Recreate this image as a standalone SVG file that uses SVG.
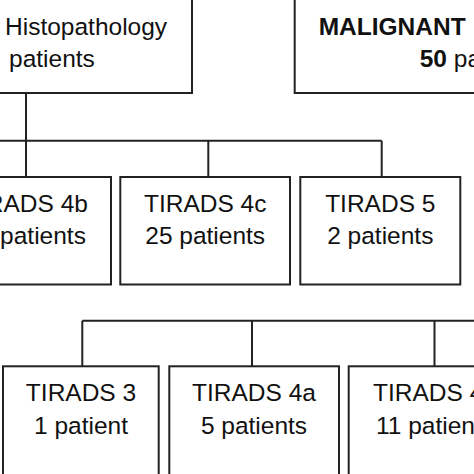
<svg xmlns="http://www.w3.org/2000/svg" width="474" height="474" viewBox="0 0 474 474">
<style>
.box{fill:#fff;stroke:#222;stroke-width:2}
.conn{fill:none;stroke:#222;stroke-width:2}
text{font-family:"Liberation Sans",Arial,sans-serif;font-size:24.5px;fill:#111}
.c{text-anchor:middle}
.b{font-weight:bold}
</style>
<rect width="474" height="474" fill="#fff"/>
<g id="connectors">
<path class="conn" d="M26 93V177"/>
<path class="conn" d="M-5 140.7H381.7"/>
<path class="conn" d="M208.3 140.7V177M381.7 140.7V177"/>
<path class="conn" d="M82.3 320.7H480"/>
<path class="conn" d="M82.3 320.7V366.3M252 320.7V366.3M434.5 320.7V366.3"/>
</g>
<g id="histopathology">
<rect class="box" x="-20" y="-10" width="212" height="103"/>
<text x="5" y="34.5">Histopathology</text>
<text x="9" y="67">patients</text>
</g>
<g id="malignant">
<rect class="box" x="294.7" y="-10" width="200" height="103"/>
<text x="318.7" y="34.5" class="b">MALIGNANT</text>
<text x="419.7" y="67"><tspan class="b">50</tspan> patients</text>
</g>
<g id="tirads4b-m">
<rect class="box" x="-59" y="177" width="170" height="107.5"/>
<text x="26" y="211.7" class="c">TIRADS 4b</text>
<text x="26" y="243.5" class="c">23 patients</text>
</g>
<g id="tirads4c">
<rect class="box" x="120.3" y="177" width="169.7" height="107.5"/>
<text x="205.2" y="211.7" class="c">TIRADS 4c</text>
<text x="205.2" y="243.5" class="c">25 patients</text>
</g>
<g id="tirads5">
<rect class="box" x="300.3" y="177" width="160" height="107.5"/>
<text x="380.3" y="211.7" class="c">TIRADS 5</text>
<text x="380.3" y="243.5" class="c">2 patients</text>
</g>
<g id="tirads3">
<rect class="box" x="3" y="366.3" width="155.7" height="120"/>
<text x="81" y="401" class="c">TIRADS 3</text>
<text x="81" y="433.5" class="c">1 patient</text>
</g>
<g id="tirads4a">
<rect class="box" x="169.3" y="366.3" width="169.7" height="120"/>
<text x="254" y="401" class="c">TIRADS 4a</text>
<text x="254" y="433.5" class="c">5 patients</text>
</g>
<g id="tirads4b-b">
<rect class="box" x="348.7" y="366.3" width="172" height="120"/>
<text x="435" y="401" class="c">TIRADS 4b</text>
<text x="435" y="433.5" class="c">11 patients</text>
</g>
</svg>
